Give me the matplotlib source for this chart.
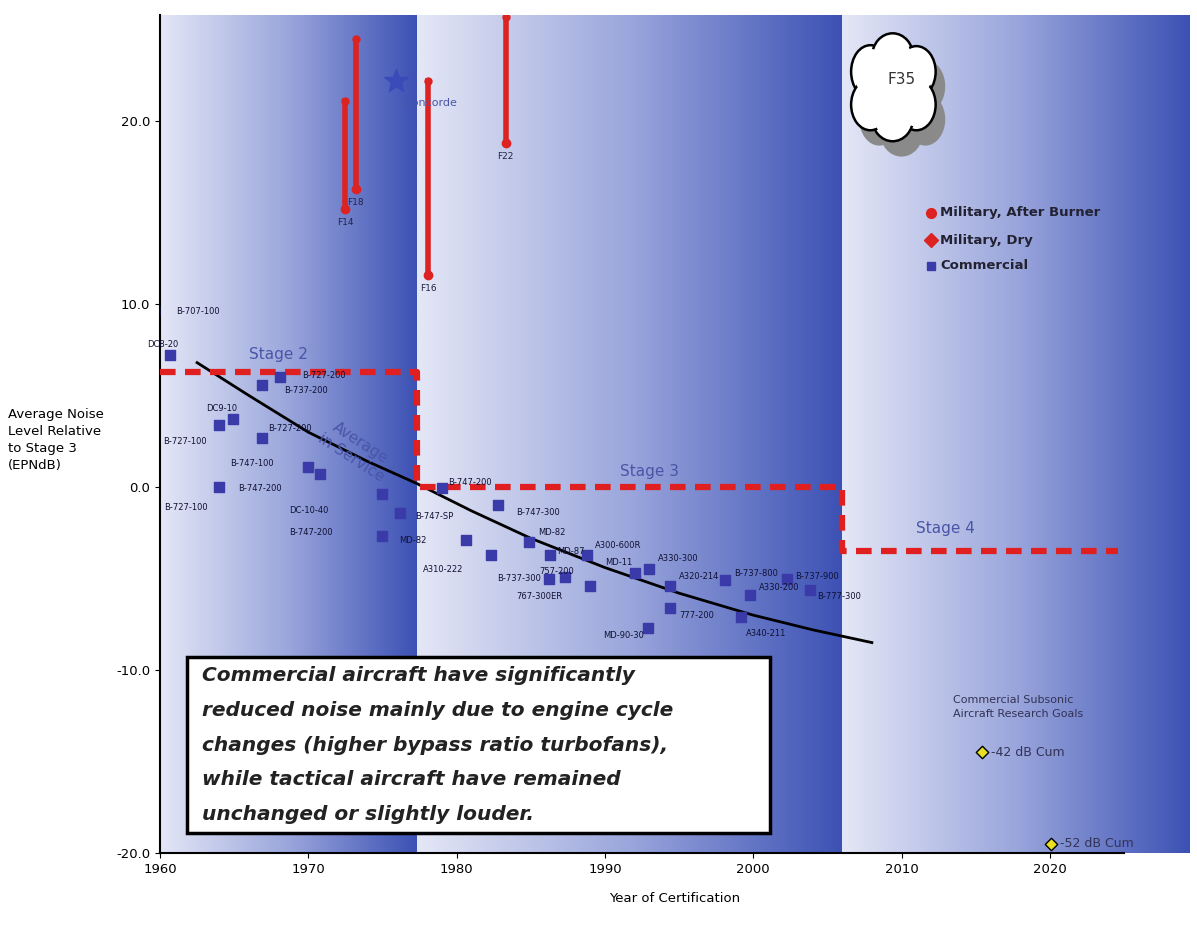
import numpy as np
import matplotlib
matplotlib.use("Agg")
import matplotlib.pyplot as plt
from matplotlib.colors import LinearSegmentedColormap
from matplotlib.patches import Rectangle, Ellipse

# ---- data ----
com_x = [1959.6, 1960.7, 1966.9, 1968.1, 1964.9, 1964.0, 1966.9, 1970.0, 1970.8, 1964.0,
         1975.0, 1975.0, 1976.2, 1979.0, 1982.8, 1980.6, 1982.3, 1984.9, 1986.3, 1987.3,
         1986.2, 1988.8, 1989.0, 1992.0, 1993.0, 1994.4, 1994.4, 1992.9, 1998.1, 1999.8,
         1999.2, 2002.3, 2003.8]
com_y = [9.6, 7.2, 5.6, 6.0, 3.7, 3.4, 2.7, 1.1, 0.7, 0.0,
         -0.4, -2.7, -1.4, -0.05, -1.0, -2.9, -3.7, -3.0, -3.7, -4.9,
         -5.0, -3.7, -5.4, -4.7, -4.5, -5.4, -6.6, -7.7, -5.1, -5.9,
         -7.1, -5.0, -5.6]
com_labels = ["B-707-100", "DC8-20", "B-737-200", "B-727-200", "DC9-10", "B-727-100", "B-727-200",
              "B-747-100", "B-747-200", "B-727-100", "DC-10-40", "B-747-200", "B-747-SP",
              "B-747-200", "B-747-300", "MD-82", "A310-222", "MD-82", "MD-87", "757-200",
              "B-737-300", "A300-600R", "767-300ER", "MD-11", "A330-300", "A320-214", "777-200",
              "MD-90-30", "B-737-800", "A330-200", "A340-211", "B-737-900", "B-777-300"]
lab_off = [(1.5, 0), (-1.6, 0.6), (1.5, -0.3), (1.5, 0.1), (-1.8, 0.6), (-3.8, -0.9), (0.4, 0.5),
           (-5.3, 0.2), (-5.5, -0.8), (-3.7, -1.1), (-6.3, -0.9), (-6.3, 0.2), (1.0, -0.2),
           (0.4, 0.3), (1.2, -0.4), (-4.5, 0), (-4.6, -0.8), (0.6, 0.5), (0.5, 0.2), (-1.7, 0.3),
           (-3.5, 0), (0.5, 0.5), (-5.0, -0.6), (-2.0, 0.6), (0.6, 0.6), (0.6, 0.5), (0.6, -0.4),
           (-3.0, -0.4), (0.6, 0.4), (0.6, 0.4), (0.3, -0.9), (0.5, 0.1), (0.5, -0.4)]

mil_names = ["F14", "F18", "F16", "F22"]
mil_x = [1972.5, 1973.2, 1978.1, 1983.3]
mil_low = [15.2, 16.3, 11.6, 18.8]
mil_high = [21.1, 24.5, 22.2, 25.7]

stage_x = [1960, 1977.3, 1977.3, 2006.0, 2006.0, 2024.6]
stage_y = [6.3, 6.3, 0.0, 0.0, -3.5, -3.5]

trend_x = [1962.5, 1966, 1970, 1974, 1977.3, 1981, 1985, 1990, 1995, 2000, 2004, 2008]
trend_y = [6.8, 5.0, 3.0, 1.4, 0.2, -1.3, -2.8, -4.4, -5.8, -7.0, -7.8, -8.5]

goal_x = [2015.4, 2020.1]
goal_y = [-14.5, -19.5]
goal_labels = ["-42 dB Cum", "-52 dB Cum"]

bands = [1960, 1977.3, 2006.0, 2029.45]

# ---- figure ----
fig = plt.figure(figsize=(11.97, 9.33), dpi=100)
fig.patch.set_facecolor("white")
ax = fig.add_axes([160/1197, 1-853/933, 1030/1197, (853-15)/933])
XMAX, YMIN, YMAX = 2029.45, -20, 25.8
ax.set_xlim(1960, XMAX)
ax.set_ylim(YMIN, YMAX)

cmap = LinearSegmentedColormap.from_list("b", ["#e4e7f6", "#9aa6dc", "#3c51b4"])
grad = np.linspace(0, 1, 256)[None, :]
for a, b in zip(bands[:-1], bands[1:]):
    ax.imshow(grad, extent=[a, b, YMIN, YMAX], aspect="auto", cmap=cmap, zorder=0)

ax.plot(trend_x, trend_y, color="black", lw=2, zorder=3)
ax.text(1973.2, 2.0, "Average\nin Service", rotation=-33, color="#4a55a8",
        fontsize=11, ha="center", va="center", zorder=3)
ax.plot(stage_x, stage_y, color="#e02020", lw=4.5, ls=(0, (2.5, 1.5)), zorder=4)
ax.text(1966, 7.0, "Stage 2", color="#4a55a8", fontsize=11, zorder=4)
ax.text(1991, 0.6, "Stage 3", color="#4a55a8", fontsize=11, zorder=4)
ax.text(2011, -2.5, "Stage 4", color="#4a55a8", fontsize=11, zorder=4)

ax.scatter(com_x, com_y, marker="s", s=45, color="#3a3aa8", zorder=5)
for x, y, l, (dx, dy) in zip(com_x, com_y, com_labels, lab_off):
    ax.text(x + dx, y + dy, l, fontsize=6, color="#111133", va="center", zorder=6)

for n, x, lo, hi in zip(mil_names, mil_x, mil_low, mil_high):
    ax.plot([x, x], [lo, hi], color="#dd2222", lw=4, zorder=5)
    ax.plot([x], [lo], "o", color="#dd2222", ms=6, zorder=6)
    ax.plot([x], [hi], "o", color="#dd2222", ms=5, zorder=6)
    ax.text(x, lo - 0.5, n, fontsize=6.5, ha="center", va="top", color="#222244", zorder=6)

ax.plot([1975.9], [22.2], marker="*", ms=18, color="#3a4ab8", zorder=6)
ax.text(1976.5, 20.8, "Concorde", fontsize=8, color="#4a55a8", zorder=6)

# F35 cloud (ellipse centers in data units, widths in years, heights in dB)
puffs = [(-1.5, 0.8, 2.6, 2.9), (0.0, 1.6, 2.8, 2.6), (1.6, 0.8, 2.6, 2.8),
         (1.6, -1.0, 2.6, 2.8), (0.0, -1.7, 2.8, 2.6), (-1.5, -1.0, 2.6, 2.8), (0, 0, 4.0, 4.0)]
cx0, cy0 = 2009.4, 21.9
for dx, dy, w, h in puffs:
    ax.add_patch(Ellipse((cx0 + dx + 0.6, cy0 + dy - 0.8), w, h, color="#8a8a8a", zorder=6))
for dx, dy, w, h in puffs:
    ax.add_patch(Ellipse((cx0 + dx, cy0 + dy), w, h, facecolor="white", edgecolor="black", lw=1.8, zorder=7))
for dx, dy, w, h in puffs:
    ax.add_patch(Ellipse((cx0 + dx, cy0 + dy), w - 0.3, h - 0.4, facecolor="white", edgecolor="none", zorder=8))
ax.text(cx0 + 0.6, cy0 + 0.4, "F35", fontsize=11, ha="center", va="center", color="#333333", zorder=9)

# legend
lx = 2012.0
ax.plot([lx], [15.0], "o", color="#dd2222", ms=7)
ax.text(lx + 0.6, 15.0, "Military, After Burner", fontsize=9.5, fontweight="bold", va="center", color="#222233")
ax.plot([lx], [13.5], "D", color="#dd2222", ms=7)
ax.text(lx + 0.6, 13.5, "Military, Dry", fontsize=9.5, fontweight="bold", va="center", color="#222233")
ax.plot([lx], [12.1], "s", color="#3a3aa8", ms=6)
ax.text(lx + 0.6, 12.1, "Commercial", fontsize=9.5, fontweight="bold", va="center", color="#222233")

# goals
ax.text(2013.5, -12.0, "Commercial Subsonic\nAircraft Research Goals", fontsize=8, color="#333355",
        va="center", linespacing=1.5)
ax.scatter(goal_x, goal_y, marker="D", s=40, color="#e8e020", edgecolor="black", zorder=6)
for x, y, l in zip(goal_x, goal_y, goal_labels):
    ax.text(x + 0.6, y, l, fontsize=9, va="center", color="#333355")

# text box
bx0, bx1 = 1961.8, 2001.1
by0, by1 = -18.9, -9.3
ax.add_patch(Rectangle((bx0, by0), bx1 - bx0, by1 - by0, facecolor="white",
                       edgecolor="black", lw=2.5, zorder=8))
lines = ["Commercial aircraft have significantly",
         "reduced noise mainly due to engine cycle",
         "changes (higher bypass ratio turbofans),",
         "while tactical aircraft have remained",
         "unchanged or slightly louder."]
for i, t in enumerate(lines):
    ax.text(bx0 + 1.0, by1 - 1.0 - i * 1.9, t, fontsize=14.5, fontstyle="italic", fontweight="bold",
            color="#222222", va="center", zorder=9)

# axes styling
for s in ["top", "right"]:
    ax.spines[s].set_visible(False)
ax.spines["bottom"].set_bounds(1960, 2025)
ax.spines["bottom"].set_linewidth(1.5)
ax.spines["left"].set_linewidth(1.5)
ax.set_xticks([1960, 1970, 1980, 1990, 2000, 2010, 2020])
ax.set_yticks([-20, -10, 0, 10, 20])
ax.set_yticklabels(["-20.0", "-10.0", "0.0", "10.0", "20.0"])
ax.tick_params(labelsize=9.5)
ax.set_xlabel("Year of Certification", fontsize=9.5, labelpad=12)
fig.text(8/1197, 1-440/933, "Average Noise\nLevel Relative\nto Stage 3\n(EPNdB)", fontsize=9.5,
         va="center", ha="left", linespacing=1.4)

fig.savefig("out.png", dpi=100)
